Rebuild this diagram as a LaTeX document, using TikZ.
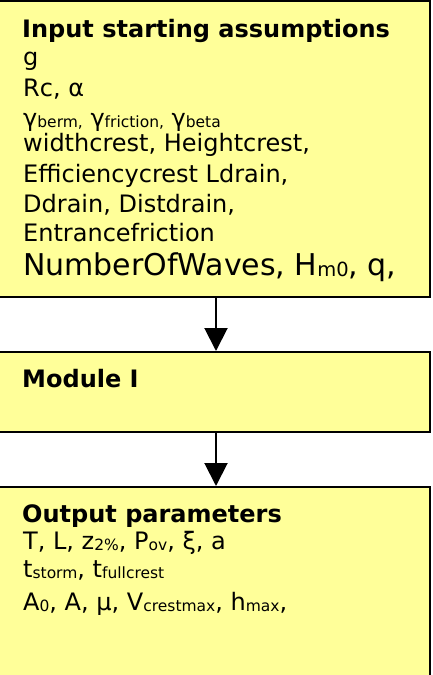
\documentclass[tikz,border=0pt]{standalone}
\usepackage{fontspec}
\setmainfont{DejaVu Sans}
\usetikzlibrary{arrows.meta}
\definecolor{boxfill}{RGB}{255,255,153}
\newcommand{\sbs}[2][15.5]{\raisebox{-1.5pt}{\fontsize{#1}{#1}\selectfont #2}}

\begin{document}
\begin{tikzpicture}[x=1pt,y=-1pt,>={Triangle[width=23pt,length=23pt]}]
      \tikzstyle{block}=[rectangle,draw=black,line width=2pt,fill=boxfill,inner sep=0pt];
      \tikzstyle{txt}=[anchor=base west,inner sep=0pt,font=\fontsize{24}{28}\selectfont];
      \tikzstyle{head}=[txt,font=\fontsize{24}{28}\selectfont\bfseries];

      \useasboundingbox (0,0) rectangle (432,675);

      \node[block,minimum width=436pt,minimum height=296pt](input) at (212,149) {};
      \node[block,minimum width=436pt,minimum height=80pt](module) at (212,392) {};
      \node[block,minimum width=436pt,minimum height=213pt](output) at (212,593.5) {};

      \node[head](inhead) at (22,37) {Input starting assumptions};
      \node[txt](g) at (23,65) {g};
      \node[txt](rc) at (23,96) {Rc, α};
      \node[txt](gam) at (23,126) {γ\sbs{berm,} γ\sbs{friction,} γ\sbs{beta}};
      \node[txt](width) at (23,151) {widthcrest, Heightcrest,};
      \node[txt](eff) at (23,182) {Efficiencycrest Ldrain,};
      \node[txt](drain) at (23,212) {Ddrain, Distdrain,};
      \node[txt](entr) at (23,241) {Entrancefriction};
      \node[txt,font=\fontsize{30}{34}\selectfont](waves) at (23,275) {NumberOfWaves, H\sbs[19.5]{m0}, q,};

      \node[head](modhead) at (22,387) {Module I};

      \node[head](outhead) at (22,522) {Output parameters};
      \node[txt](tl) at (23,549) {T, L, z\sbs{2\%}, P\sbs{ov}, ξ, a};
      \node[txt](ts) at (23,577) {t\sbs{storm}, t\sbs{fullcrest}};
      \node[txt](amu) at (23,610) {A\sbs{0}, A, μ, V\sbs{crestmax}, h\sbs{max},};

      \draw[->,line width=2pt] ([xshift=4pt]input.south) -- ([xshift=4pt]module.north);
      \draw[->,line width=2pt] ([xshift=4pt]module.south) -- ([xshift=4pt]output.north);

\end{tikzpicture}
\end{document}
